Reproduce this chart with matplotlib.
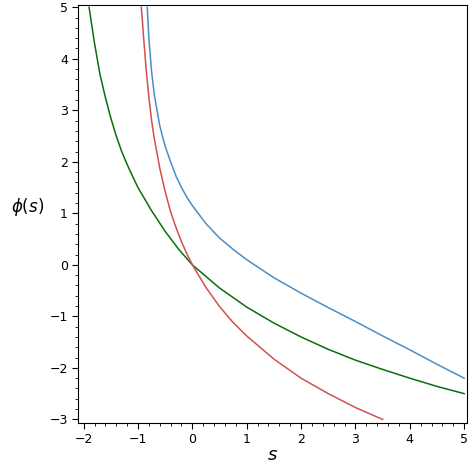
import numpy as np
import matplotlib.pyplot as plt
from matplotlib.ticker import MultipleLocator

s_green = [-1.9, -1.8, -1.7, -1.6, -1.5, -1.4, -1.3, -1.2, -1.1, -1.0, -0.75, -0.5, -0.25, 0.0, 0.5, 1.0, 1.5, 2.0, 2.5, 3.0, 3.5, 4.0, 4.5, 5.0]
phi_green = [5.0, 4.3, 3.7, 3.25, 2.85, 2.5, 2.2, 1.95, 1.72, 1.5, 1.05, 0.65, 0.3, 0.0, -0.45, -0.82, -1.13, -1.4, -1.64, -1.85, -2.03, -2.2, -2.36, -2.5]

s_red = [-0.94, -0.92, -0.9, -0.85, -0.8, -0.75, -0.7, -0.6, -0.5, -0.4, -0.3, -0.2, -0.1, 0.0, 0.25, 0.5, 0.75, 1.0, 1.5, 2.0, 2.5, 3.0, 3.5]
phi_red = [5.0, 4.75, 4.45, 3.8, 3.25, 2.8, 2.45, 1.88, 1.42, 1.03, 0.72, 0.45, 0.21, 0.0, -0.44, -0.81, -1.12, -1.38, -1.83, -2.2, -2.5, -2.77, -3.0]

s_blue = [-0.83, -0.8, -0.75, -0.7, -0.6, -0.5, -0.4, -0.3, -0.2, -0.1, 0.0, 0.25, 0.5, 0.75, 1.0, 1.5, 2.0, 2.5, 3.0, 3.5, 4.0, 4.5, 5.0]
phi_blue = [5.0, 4.4, 3.75, 3.3, 2.7, 2.3, 2.0, 1.72, 1.5, 1.31, 1.15, 0.8, 0.52, 0.3, 0.1, -0.25, -0.55, -0.83, -1.1, -1.38, -1.65, -1.93, -2.2]

fig, ax = plt.subplots(figsize=(4.74, 4.70), dpi=100)
fig.subplots_adjust(left=0.165, right=0.985, top=0.99, bottom=0.1)

ax.plot(s_green, phi_green, color='#0b6e0b', lw=1.1)
ax.plot(s_red, phi_red, color='#d25050', lw=1.1)
ax.plot(s_blue, phi_blue, color='#4a8ec6', lw=1.1)

ax.set_xlim(-2.1, 5.05)
ax.set_ylim(-3.07, 5.05)
ax.xaxis.set_major_locator(MultipleLocator(1))
ax.yaxis.set_major_locator(MultipleLocator(1))
ax.xaxis.set_minor_locator(MultipleLocator(0.2))
ax.yaxis.set_minor_locator(MultipleLocator(0.2))
ax.tick_params(which='both', direction='out', labelsize=9)
ax.tick_params(which='major', length=4)
ax.tick_params(which='minor', length=2)
ax.set_xlabel('$s$', fontsize=13, labelpad=0)
ax.set_ylabel(r'$\phi(s)$', fontsize=12, rotation=0, labelpad=18)
ax.yaxis.set_label_coords(-0.13, 0.49)

fig.savefig('out.png')
